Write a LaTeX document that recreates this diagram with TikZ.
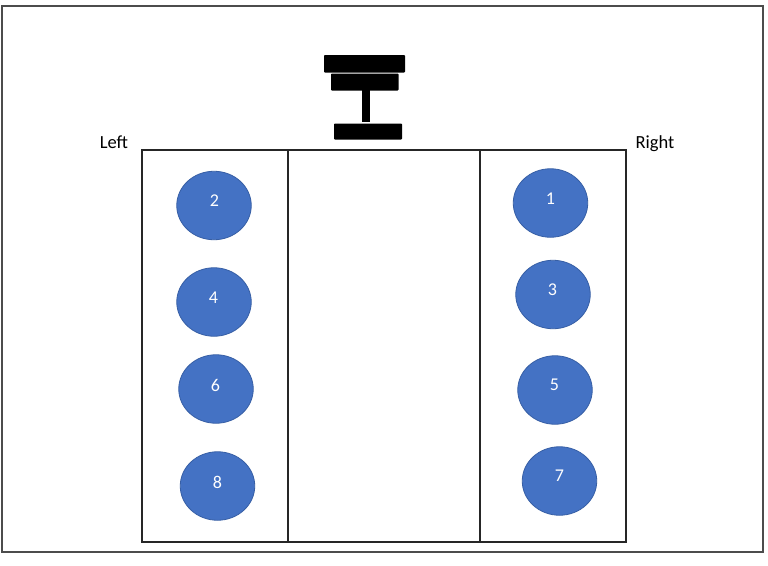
\documentclass[tikz,border=0pt]{standalone}
\usepackage{fontspec}
\setmainfont{Carlito}
\usetikzlibrary{shapes.geometric}
\definecolor{mybay}{RGB}{68,114,196}
\definecolor{mybayedge}{RGB}{55,95,165}
\tikzset{
    bay/.style={ellipse, draw=mybayedge, line width=0.8pt, fill=mybay,
        minimum width=74.5pt, minimum height=68.5pt, inner sep=0pt},
    baynum/.style={text=white, font=\fontsize{18}{20}\selectfont, inner sep=0pt},
    sidelabel/.style={font=\fontsize{18.5}{22}\selectfont, inner sep=0pt, anchor=base},
    wall/.style={draw=black!85, line width=1.3pt},
    bar/.style={fill=black, rounded corners=0.8pt}
}

\begin{document}
\begin{tikzpicture}[x=1pt, y=-1pt]
    \useasboundingbox (0, 0) rectangle (768, 565);
    \fill[white] (0, 0) rectangle (768, 565);
    % Frame
    \draw[draw=black!70, line width=1.3pt] (2, 6) rectangle (763, 552);
    % Tracks
    \draw[wall] (142, 150) rectangle (626, 542);
    \draw[wall] (288, 150) -- (288, 542);
    \draw[wall] (480, 150) -- (480, 542);
    % Stand
    \fill[bar] (324, 55) rectangle (405, 72.5);
    \fill[bar] (331, 73.5) rectangle (398.5, 90.5);
    \fill (361.5, 90) rectangle (369.5, 122);
    \fill[bar] (334, 123.5) rectangle (402, 139.5);
    % Labels
    \node[sidelabel] (left) at (114, 148) {Left};
    \node[sidelabel] (right) at (655, 148) {Right};
    % Bays
    \foreach \num/\x/\y/\tx/\ty in {
        2/214/205.5/214.5/201, 4/214/302/213.5/298, 6/216/389/215.5/385, 8/217.5/486/217.5/482,
        1/550.5/203/550.5/199, 3/553/294.5/552.5/290, 5/555/390/554.5/385, 7/559.5/481/559.5/476} {
        \node[bay] (bay\num) at (\x, \y) {};
        \node[baynum] (num\num) at (\tx, \ty) {\num};
    }
\end{tikzpicture}
\end{document}
